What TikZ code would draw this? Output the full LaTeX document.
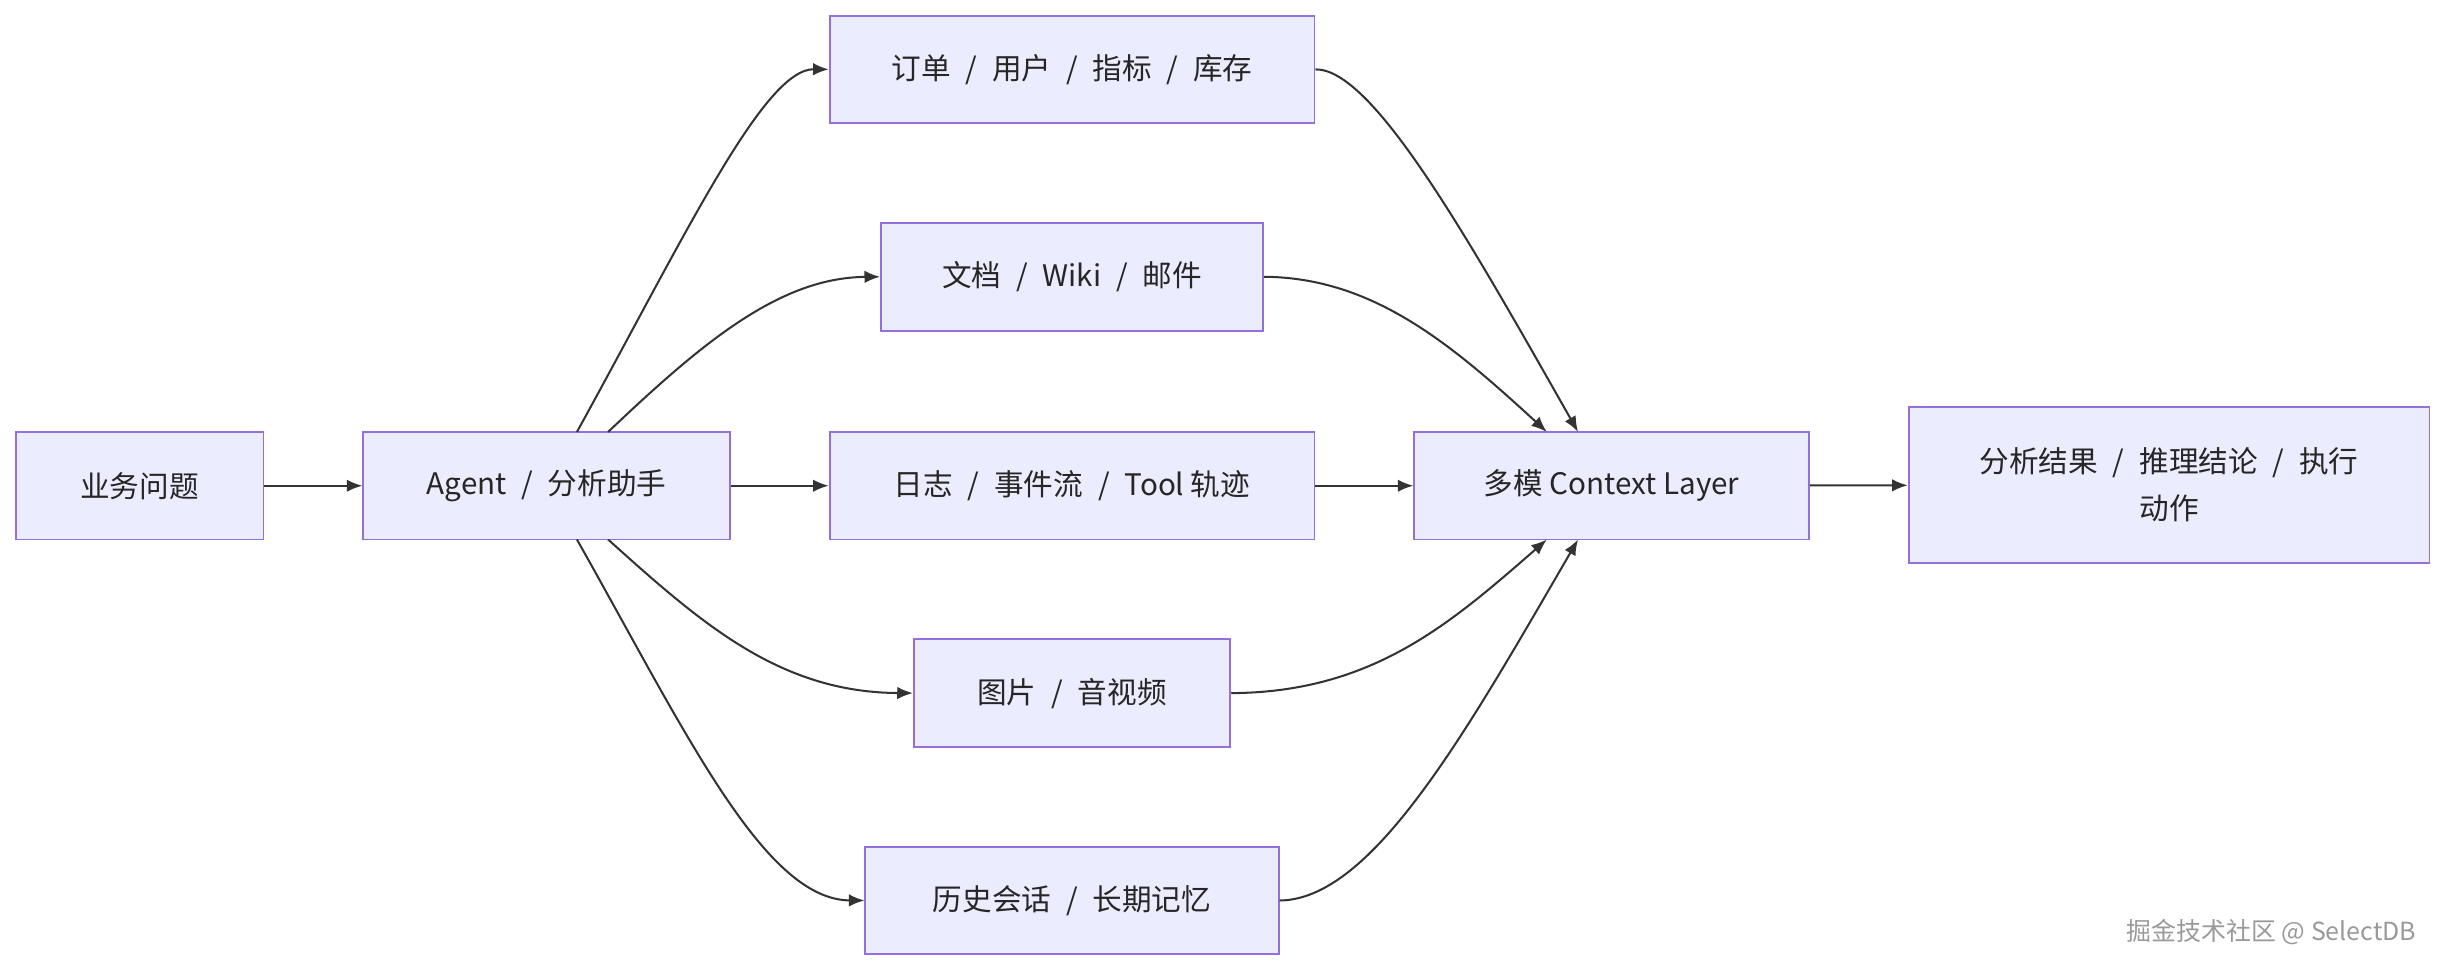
\documentclass[tikz,border=0pt]{standalone}
\usepackage{fontspec}
\setmainfont{Noto Sans CJK SC}
\usetikzlibrary{arrows.meta}
\definecolor{nfill}{HTML}{ECECFF}
\definecolor{nborder}{HTML}{9370DB}
\definecolor{lk}{HTML}{333333}
\newcommand{\sepx}{\hspace{0.5em}/\hspace{0.5em}}
\begin{document}
\begin{tikzpicture}[x=1pt,y=-1pt,
  box/.style={draw=nborder,fill=nfill,line width=1.2pt,inner sep=0pt,font=\fontsize{19}{30}\selectfont,text=black!85},
  ar/.style={draw=lk,line width=1.3pt,-{Latex[length=10pt,width=8pt]}}]
\useasboundingbox (0,0) rectangle (1568,623);
\node[box,minimum width=159,minimum height=69] (q) at (89.5,311.5) {业务问题};
\node[box,minimum width=235,minimum height=69] (a) at (350.5,311.5) {Agent\sepx 分析助手};
\node[box,minimum width=311,minimum height=69] (d1) at (687.5,44.5) {订单\sepx 用户\sepx 指标\sepx 库存};
\node[box,minimum width=245,minimum height=69] (d2) at (687.5,177.5) {文档\sepx Wiki\sepx 邮件};
\node[box,minimum width=311,minimum height=69] (d3) at (687.5,311.5) {日志\sepx 事件流\sepx Tool 轨迹};
\node[box,minimum width=203,minimum height=69] (d4) at (687.5,444.5) {图片\sepx 音视频};
\node[box,minimum width=265,minimum height=69] (d5) at (687.5,577.5) {历史会话\sepx 长期记忆};
\node[box,minimum width=253,minimum height=69] (c) at (1033.5,311.5) {多模 Context Layer};
\node[box,minimum width=334,minimum height=100,align=center] (r) at (1391,311) {分析结果\sepx 推理结论\sepx 执行\\动作};
\node[text=gray!80,font=\fontsize{16}{20}\selectfont,anchor=east] (w) at (1553,598) {掘金技术社区 @ SelectDB};
\coordinate (a1) at (370,277); \coordinate (a2) at (390,277);
\coordinate (a4) at (390,346); \coordinate (a5) at (370,346);
\coordinate (c1) at (1012,277); \coordinate (c2) at (992,277);
\coordinate (c4) at (992,346); \coordinate (c5) at (1012,346);
\draw[ar] (q) -- (a);
\draw[ar] (a) -- (d3);
\draw[ar] (d3) -- (c);
\draw[ar] (c) -- (r);
\draw[ar] (a1) .. controls (440,150) and (490,44) .. (d1.west);
\draw[ar] (a2) .. controls (450,220) and (500,178) .. (d2.west);
\draw[ar] (a4) .. controls (450,400) and (500,444) .. (d4.west);
\draw[ar] (a5) .. controls (440,470) and (490,577) .. (d5.west);
\draw[ar] (d1.east) .. controls (880,44) and (940,150) .. (c1);
\draw[ar] (d2.east) .. controls (880,178) and (930,220) .. (c2);
\draw[ar] (d4.east) .. controls (880,444) and (930,400) .. (c4);
\draw[ar] (d5.east) .. controls (880,577) and (940,470) .. (c5);
\end{tikzpicture}
\end{document}
